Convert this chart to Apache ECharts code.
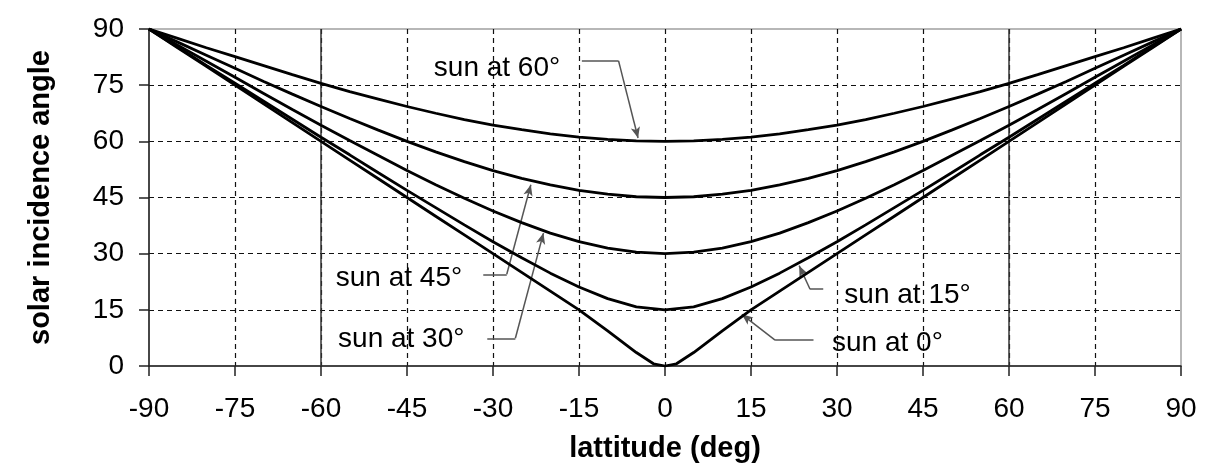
<!DOCTYPE html>
<html>
<head>
<meta charset="utf-8">
<script src="https://cdn.jsdelivr.net/npm/echarts@6/dist/echarts.min.js"></script>
<style>
html,body{margin:0;padding:0;background:#fff;}
#chart{width:1214px;height:463px;}
</style>
</head>
<body>
<div id="chart"></div>
<script>
// latitude samples (deg)
const lats = [-90,-85,-80,-75,-70,-65,-60,-55,-50,-45,-40,-35,-30,-25,-20,-15,-10,-5,0,5,10,15,20,25,30,35,40,45,50,55,60,65,70,75,80,85,90];
const sun60 = [90,87.5,85.0,82.6,80.2,77.8,75.5,73.3,71.3,69.3,67.5,65.8,64.3,63.1,62.0,61.1,60.5,60.1,60,60.1,60.5,61.1,62.0,63.1,64.3,65.8,67.5,69.3,71.3,73.3,75.5,77.8,80.2,82.6,85.0,87.5,90];
const sun45 = [90,86.5,83.0,79.5,76.0,72.6,69.3,66.1,63.0,60,57.2,54.6,52.2,50.1,48.4,46.9,45.9,45.2,45,45.2,45.9,46.9,48.4,50.1,52.2,54.6,57.2,60,63.0,66.1,69.3,72.6,76.0,79.5,83.0,86.5,90];
const sun30 = [90,85.7,81.4,77.1,72.8,68.5,64.3,60.2,56.2,52.2,48.4,44.8,41.4,38.3,35.5,33.2,31.5,30.4,30,30.4,31.5,33.2,35.5,38.3,41.4,44.8,48.4,52.2,56.2,60.2,64.3,68.5,72.8,77.1,81.4,85.7,90];
const sun15 = [90,85.2,80.3,75.5,70.7,65.9,61.1,56.4,51.6,46.9,42.3,37.7,33.2,28.9,24.8,21.1,18.0,15.8,15,15.8,18.0,21.1,24.8,28.9,33.2,37.7,42.3,46.9,51.6,56.4,61.1,65.9,70.7,75.5,80.3,85.2,90];
const lats0 = [-90,-85,-80,-75,-70,-65,-60,-55,-50,-45,-40,-35,-30,-25,-20,-15,-10,-5,-2,0,2,5,10,15,20,25,30,35,40,45,50,55,60,65,70,75,80,85,90];
const sun0  = [90,85,80,75,70,65,60,55,50,45,40,35,30,25,20,15,9.4,3.6,0.6,0,0.6,3.6,9.4,15,20,25,30,35,40,45,50,55,60,65,70,75,80,85,90];
const seriesNames = ['sun at 60°','sun at 45°','sun at 30°','sun at 15°','sun at 0°'];
const xTicks = {min:-90, max:90, step:15};
const yTicks = {min:0, max:90, step:15};

const FONT = '"Liberation Sans", Arial, Helvetica, sans-serif';
function pairs(xs, ys){ return xs.map((x,i)=>[x, ys[i]]); }

const lineBase = {type:'line', symbol:'none', showSymbol:false, silent:true, lineStyle:{color:'#000', width:2.8}, z:5};

// annotation leaders (data space)
const leaderStyle = {color:'#555', width:1.5, type:'solid'};
function leader(p0, p1, p2){
  return [
    [{coord:p0, symbol:'none'},{coord:p1, symbol:'none'}],
    [{coord:p1, symbol:'none'},{coord:p2, symbol:'arrow', symbolSize:[7,11]}]
  ];
}
const leaders = [].concat(
  leader([-14.5,81.5],[-8.1,81.5],[-4.7,60.9]),
  leader([-31.7,24.5],[-27.6,24.5],[-23.4,48.4]),
  leader([-31.0,7.4],[-26.1,7.4],[-21.2,35.5]),
  leader([27.6,20.5],[25.3,20.5],[23.4,26.8]),
  leader([25.9,6.9],[19.2,6.9],[13.4,13.8])
);
const labelCoords = [[-29.3,79.6],[-46.4,23.4],[-46.0,7.1],[42.3,18.9],[38.8,6.1]];

const option = {
  animation:false,
  backgroundColor:'#fff',
  grid:{left:149, right:33, top:29, bottom:97, show:true, borderColor:'#a0a0a0', borderWidth:1.5,
        containLabel:false, outerBoundsMode:'none'},
  xAxis:{
    type:'value', min:xTicks.min, max:xTicks.max, interval:xTicks.step,
    name:'lattitude (deg)', nameLocation:'middle', nameGap:68,
    nameTextStyle:{fontFamily:FONT, fontSize:29, fontWeight:'bold', color:'#000'},
    axisLine:{show:true, onZero:false, lineStyle:{color:'#222', width:1.5}},
    axisTick:{show:true, length:10, lineStyle:{color:'#222', width:1.5}},
    axisLabel:{fontFamily:FONT, fontSize:28, color:'#000', margin:29},
    splitLine:{show:true, showMinLine:false, showMaxLine:false, lineStyle:{color:'#111', width:1.2, type:[5,4]}}
  },
  yAxis:{
    type:'value', min:yTicks.min, max:yTicks.max, interval:yTicks.step,
    name:'solar incidence angle', nameLocation:'middle', nameGap:94,
    nameTextStyle:{fontFamily:FONT, fontSize:29, fontWeight:'bold', color:'#000'},
    axisLine:{show:true, onZero:false, lineStyle:{color:'#222', width:1.5}},
    axisTick:{show:true, length:10, lineStyle:{color:'#222', width:1.5}},
    axisLabel:{fontFamily:FONT, fontSize:28, color:'#000', margin:25},
    splitLine:{show:true, showMinLine:false, showMaxLine:false, lineStyle:{color:'#111', width:1.2, type:[5,4]}}
  },
  series:[
    Object.assign({}, lineBase, {name:seriesNames[0], data:pairs(lats, sun60),
      markLine:{silent:true, symbol:'none', label:{show:false}, animation:false,
        lineStyle:{color:'#333', width:1.5, type:'solid'},
        data:[{xAxis:-60},{xAxis:60}]}}),
    Object.assign({}, lineBase, {name:seriesNames[1], data:pairs(lats, sun45)}),
    Object.assign({}, lineBase, {name:seriesNames[2], data:pairs(lats, sun30)}),
    Object.assign({}, lineBase, {name:seriesNames[3], data:pairs(lats, sun15)}),
    Object.assign({}, lineBase, {name:seriesNames[4], data:pairs(lats0, sun0),
      markLine:{silent:true, label:{show:false}, animation:false, lineStyle:leaderStyle,
        data:leaders},
      markPoint:{silent:true, animation:false, symbol:'circle', symbolSize:1,
        itemStyle:{color:'rgba(0,0,0,0)'},
        label:{show:true, position:'inside', formatter:'{b}', fontFamily:FONT, fontSize:28, color:'#000'},
        data:seriesNames.map((n,i)=>({name:n, coord:labelCoords[i]}))}
    })
  ]
};

const chart = echarts.init(document.getElementById('chart'), null, {renderer:'canvas'});
chart.setOption(option);
</script>
</body>
</html>
